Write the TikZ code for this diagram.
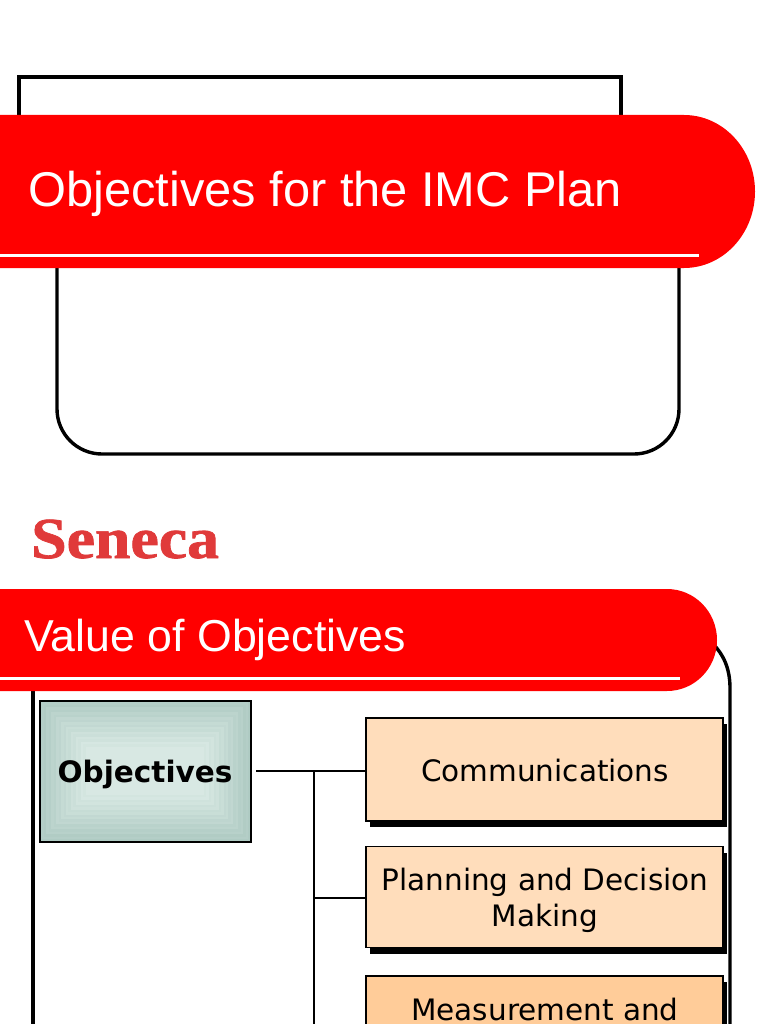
\documentclass[tikz,border=0pt]{standalone}
\usepackage{fontspec}
\usetikzlibrary{shadows}
\setmainfont{Liberation Sans}
\newfontfamily\boxfont{DejaVu Sans}
\newfontfamily\logofont[BoldFont={Liberation Serif Bold},BoldFeatures={FakeBold=1.2}]{Liberation Serif}
\definecolor{bannerred}{HTML}{FF0000}
\definecolor{logored}{HTML}{E03A3A}
\definecolor{peach}{HTML}{FFDDBB}
\definecolor{peachdark}{HTML}{FFCC99}
\definecolor{tealout}{HTML}{AFCBC3}
\definecolor{tealin}{HTML}{D8E8E3}
\tikzset{
  frameline/.style={draw=black,line width=3.4pt,fill=none},
  framethick/.style={draw=black,line width=4pt,fill=none},
  banner/.style={fill=bannerred,draw=none},
  rule/.style={draw=white,line width=3.5pt},
  bannertext/.style={text=white,anchor=base west,inner sep=0pt},
  conn/.style={draw=black,line width=2pt},
  itembox/.style={draw=black,line width=1.8pt,minimum width=357pt,inner sep=0pt,
    general shadow={fill=black,shadow xshift=4pt,shadow yshift=-6pt}},
  itemtext/.style={inner sep=0pt,align=center,font=\boxfont\fontsize{29.5}{36}\selectfont},
  objbox/.style={draw=black,line width=2pt,minimum width=211pt,minimum height=141pt,inner sep=0pt}
}
\begin{document}
\begin{tikzpicture}[x=1pt,y=-1pt]
\useasboundingbox (0,0) rectangle (768,1024);
\clip (0,0) rectangle (768,1024);
\fill[white] (0,0) rectangle (768,1024);
% upper slide frame
\draw[framethick] (19,116) -- (19,77) -- (621,77) -- (621,116);
\draw[frameline] (57,266) -- (57,409) arc[start angle=180,end angle=90,x radius=45,y radius=45] -- (634,454)
  arc[start angle=90,end angle=0,x radius=45,y radius=45] -- (679,266);
% upper banner
\path[banner] (0,115) -- (684,115) arc[start angle=90,end angle=-90,x radius=71,y radius=-76.5] -- (0,268) -- cycle;
\draw[rule] (0,255.5) -- (699,255.5);
\node[bannertext,font=\fontsize{48.8}{56}\selectfont] (title1) at (28,207) {Objectives for the IMC Plan};
% logo
\node[anchor=base west,inner sep=0pt,text=logored,font=\logofont\bfseries\fontsize{58}{66}\selectfont,xscale=1.1] (logo) at (31,558) {Seneca};
% lower slide frame
\draw[frameline] (33,685) -- (33,1030);
\draw[frameline] (713,644) .. controls (723,654) and (730,668) .. (730,688) -- (730,1030);
% lower banner
\path[banner] (0,589) -- (667,589) arc[start angle=90,end angle=-90,x radius=50,y radius=-51] -- (0,691) -- cycle;
\draw[rule] (0,678.5) -- (680,678.5);
\node[bannertext,font=\fontsize{44.7}{50}\selectfont] (title2) at (24,651) {Value of Objectives};
% objectives box
\foreach \i in {0,...,19}{
  \pgfmathsetmacro{\mix}{min(100,max(0,100*\i/19+12*(mod(\i,2)-0.5)))}
  \pgfmathsetmacro{\ins}{\i*2.45}
  \fill[tealin!\mix!tealout] (39+\ins,700+\ins) rectangle (250.5-\ins,841.5-\ins);
}
\node[objbox] (obj) at (145,771) {};
\node[inner sep=0pt,font=\boxfont\bfseries\fontsize{29.5}{32}\selectfont] (objtext) at (145,774) {Objectives};
% item boxes
\node[itembox,fill=peach,minimum height=103pt] (comm) at (544.5,769.5) {};
\node[itemtext] (commtext) at (545,770.5) {Communications};
\node[itembox,fill=peach,minimum height=101pt] (plan) at (544.5,897) {};
\node[itemtext] (plantext) at (545,900) {Planning and Decision\\Making};
\node[itembox,fill=peachdark,minimum height=103pt] (meas) at (544.5,1027.5) {};
\node[itemtext] (meastext) at (545,1009) {Measurement and};
% connectors
\coordinate (start) at (256,771);
\coordinate (jtop) at (314,771);
\coordinate (jmid) at (314,898);
\coordinate (jend) at (314,1026);
\draw[conn] (start) -- (jtop) -- (comm.west |- jtop);
\draw[conn] (jtop) -- (jend);
\draw[conn] (jmid) -- (plan.west |- jmid);
\end{tikzpicture}
\end{document}
